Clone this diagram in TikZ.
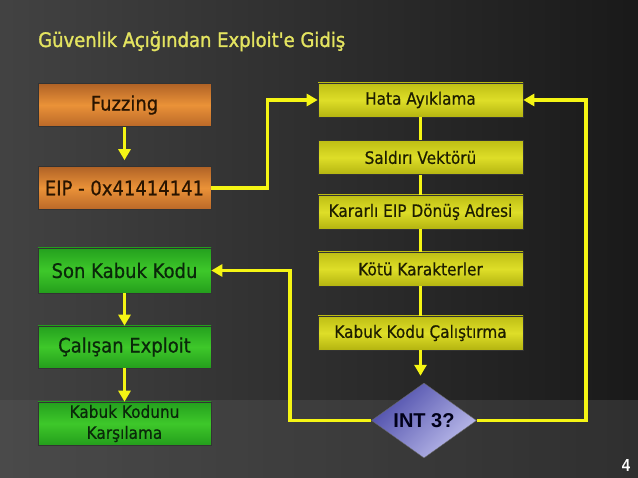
\documentclass[tikz,border=0pt]{standalone}
\usepackage{fontspec}
\setmainfont{DejaVu Sans}[FakeStretch=0.9,FakeBold=0.6]
\newfontfamily\titlefont{DejaVu Sans}[FakeStretch=0.9,FakeBold=1.4]
\newfontfamily\arialfont{Liberation Sans}
\usetikzlibrary{shapes.geometric,arrows.meta}
\definecolor{titleyellow}{RGB}{228,228,96}
\definecolor{lineyellow}{RGB}{245,245,20}
\definecolor{orangetop}{RGB}{176,98,38}
\definecolor{orangemid}{RGB}{234,146,56}
\definecolor{orangebot}{RGB}{186,104,40}
\definecolor{yellowtop}{RGB}{190,190,20}
\definecolor{yellowmid}{RGB}{222,222,40}
\definecolor{yellowbot}{RGB}{180,180,16}
\definecolor{greentop}{RGB}{36,160,30}
\definecolor{greenmid}{RGB}{62,200,42}
\definecolor{greenbot}{RGB}{36,158,28}
\definecolor{diamdark}{RGB}{76,76,170}
\definecolor{diamlight}{RGB}{190,190,236}
\definecolor{orangetext}{RGB}{40,20,0}
\definecolor{greentext}{RGB}{10,40,10}
\definecolor{yellowtext}{RGB}{30,30,0}
\begin{document}
\begin{tikzpicture}[x=1pt,y=-1pt,
    box/.style={draw=black!80, line width=0.6pt, inner sep=0pt},
    orangebox/.style={box, minimum width=173pt, minimum height=43pt,
        top color=orangetop, bottom color=orangebot, middle color=orangemid,
        text=orangetext, font=\fontsize{20}{22}\selectfont},
    greenbox/.style={box, minimum width=173pt, minimum height=43pt,
        top color=greentop, bottom color=greenbot, middle color=greenmid,
        text=greentext, font=\fontsize{20}{22}\selectfont},
    yellowbox/.style={box, minimum width=205pt, minimum height=34pt,
        top color=yellowtop, bottom color=yellowbot, middle color=yellowmid,
        text=yellowtext, font=\fontsize{17}{19}\selectfont},
    link/.style={draw=lineyellow, line width=3.5pt},
    arrowlink/.style={link, -{Triangle[length=11pt,width=12pt]}}]
    % Background
    \shade[left color=black!74, right color=black!90] (0,0) rectangle (638,478);
    \fill[black!65, opacity=0.35] (0,400) rectangle (638,478);

    % Title
    \node[anchor=base west, inner sep=0pt, text=titleyellow,
        font=\titlefont\fontsize{20}{22}\selectfont] (title) at (38,47)
        {Güvenlik Açığından Exploit'e Gidiş};

    % Left column
    \node[orangebox] (fuzz) at (124.5,105) {Fuzzing};
    \node[orangebox] (eip) at (124.5,188) {EIP - 0x41414141};
    \node[greenbox, minimum height=45pt] (son) at (124.5,270.5) {Son Kabuk Kodu};
    \node[greenbox, minimum height=42pt] (calisan) at (124.5,347) {Çalışan Exploit};
    \node[greenbox, align=center, font=\fontsize{17}{21}\selectfont]
        (karsilama) at (124.5,423.5) {Kabuk Kodunu\\Karşılama};

    % Right column
    \node[yellowbox] (hata) at (420.5,100) {Hata Ayıklama};
    \node[yellowbox] (saldiri) at (420.5,157.5) {Saldırı Vektörü};
    \node[yellowbox] (eipadres) at (420.5,212) {Kararlı EIP Dönüş Adresi};
    \node[yellowbox] (kotu) at (420.5,269) {Kötü Karakterler};
    \node[yellowbox] (calistir) at (420.5,333) {Kabuk Kodu Çalıştırma};

    % Decision
    \node[diamond, aspect=1.4, minimum width=105pt, minimum height=75pt,
        inner sep=0pt, draw=black!60, line width=0.4pt,
        left color=diamdark, right color=diamlight, shading angle=45,
        text=black!90!blue, font=\arialfont\bfseries\fontsize{20}{22}\selectfont]
        (int3) at (424,420.5) {INT 3?};

    % Loop corners
    \coordinate (loopR) at (586,100);
    \coordinate (loopL) at (290,270.5);

    % Connectors
    \draw[arrowlink, shorten >=6pt] (fuzz) -- (eip);
    \draw[arrowlink] (eip.east) -- ++(56,0) |- (hata.west);
    \draw[link] (hata) -- (saldiri);
    \draw[link] (saldiri) -- (eipadres);
    \draw[link] (eipadres) -- (kotu);
    \draw[link] (kotu) -- (calistir);
    \draw[arrowlink, shorten >=7pt] (calistir.south) -- (calistir.south |- int3.north);
    \draw[arrowlink] (int3.east) -| (loopR) -- (hata.east);
    \draw[arrowlink] (int3.west) -| (loopL) -- (son.east);
    \draw[arrowlink] (son) -- (calisan);
    \draw[arrowlink] (calisan) -- (karsilama);

    % Page number
    \node[text=white, font=\fontsize{16}{18}\selectfont] (pagenum) at (626,465) {4};
\end{tikzpicture}
\end{document}
